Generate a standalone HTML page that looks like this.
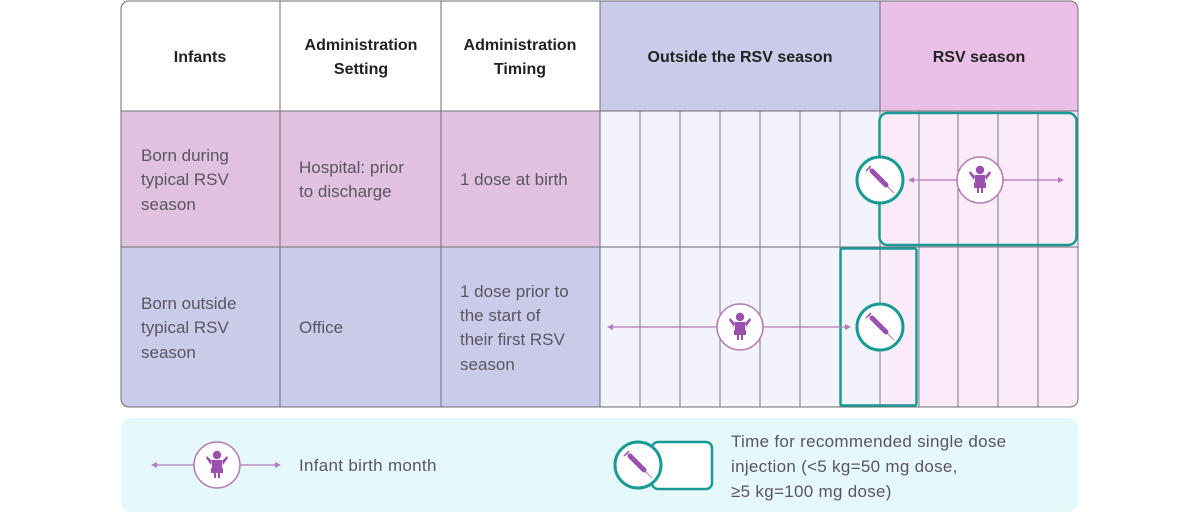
<!DOCTYPE html>
<html><head><meta charset="utf-8"><style>
html,body{margin:0;padding:0;background:#fff;}
svg{display:block;font-family:"Liberation Sans",sans-serif;}
.h{font-weight:bold;font-size:16px;fill:#222;text-anchor:middle;}
.b{font-size:17px;fill:#5a5560;}
.l{font-size:17px;fill:#5a5560;letter-spacing:0.3px;}
</style></head><body>
<svg width="1200" height="512" viewBox="0 0 1200 512" xmlns="http://www.w3.org/2000/svg">
<defs>
<symbol id="baby" viewBox="-24 -24 48 48" overflow="visible">
<circle r="23" fill="#fff" stroke="#b57ab8" stroke-width="1.5"/>
<circle cx="0" cy="-10" r="4.2" fill="#9b4fae"/>
<path d="M-5,-5 L5,-5 L5,4 L-5,4 Z" fill="#9b4fae"/>
<path d="M-5,-4 L-10,-9 L-11,-7 L-6,0 Z M5,-4 L10,-9 L11,-7 L6,0 Z" fill="#9b4fae"/>
<path d="M-6,3 L6,3 L6,8 L3,8 L3,13 L1,13 L1,8 L-1,8 L-1,13 L-3,13 L-3,8 L-6,8 Z" fill="#9b4fae"/>
</symbol>
<symbol id="syr" viewBox="-24 -24 48 48" overflow="visible">
<circle r="23" fill="#fff" stroke="#1a9a95" stroke-width="3"/>
<line x1="-11" y1="-12" x2="14" y2="13" stroke="#b57ab8" stroke-width="1"/>
<line x1="-8" y1="-9" x2="6" y2="5" stroke="#9b4fae" stroke-width="5" stroke-linecap="round"/>
<line x1="-14" y1="-9" x2="-9" y2="-14" stroke="#9b4fae" stroke-width="1.5"/>
</symbol>
</defs>
<rect x="121" y="1" width="957" height="406" rx="8" fill="#fff"/>
<rect x="600" y="1" width="280" height="110" fill="#c9cbe9"/>
<path d="M880,1 H1070 Q1078,1 1078,9 V111 H880 Z" fill="#e9bfe6"/>
<rect x="121" y="111" width="479" height="136" fill="#e0c2e0"/>
<path d="M121,247 H600 V407 H129 Q121,407 121,399 Z" fill="#c9cbe9"/>
<rect x="600" y="111" width="280" height="296" fill="#f3f3fb"/>
<path d="M880,111 H1078 V399 Q1078,407 1070,407 H880 Z" fill="#fbeaf7"/>
<g stroke="#6e6e74" stroke-width="1">
<line x1="121" y1="111" x2="1078" y2="111"/>
<line x1="121" y1="247" x2="1078" y2="247"/>
<line x1="280" y1="1" x2="280" y2="407"/>
<line x1="441" y1="1" x2="441" y2="407"/>
<line x1="600" y1="1" x2="600" y2="407"/>
<line x1="880" y1="1" x2="880" y2="111"/>
</g>
<g stroke="#7a7a82" stroke-width="1">
<line x1="640" y1="111" x2="640" y2="407"/><line x1="680" y1="111" x2="680" y2="407"/>
<line x1="720" y1="111" x2="720" y2="407"/><line x1="760" y1="111" x2="760" y2="407"/>
<line x1="800" y1="111" x2="800" y2="407"/><line x1="840" y1="111" x2="840" y2="407"/>
<line x1="880" y1="111" x2="880" y2="407"/><line x1="919" y1="111" x2="919" y2="407"/>
<line x1="958" y1="111" x2="958" y2="407"/><line x1="998" y1="111" x2="998" y2="407"/>
<line x1="1038" y1="111" x2="1038" y2="407"/>
</g>
<rect x="121" y="1" width="957" height="406" rx="8" fill="none" stroke="#6e6e74" stroke-width="1"/>
<text class="h" x="200" y="62">Infants</text>
<text class="h" x="361" y="50">Administration</text>
<text class="h" x="361" y="74">Setting</text>
<text class="h" x="520" y="50">Administration</text>
<text class="h" x="520" y="74">Timing</text>
<text class="h" x="740" y="62">Outside the RSV season</text>
<text class="h" x="979" y="62">RSV season</text>
<text class="b" x="141" y="161">Born during</text>
<text class="b" x="141" y="185">typical RSV</text>
<text class="b" x="141" y="210">season</text>
<text class="b" x="299" y="173">Hospital: prior</text>
<text class="b" x="299" y="197">to discharge</text>
<text class="b" x="460" y="185">1 dose at birth</text>
<text class="b" x="141" y="309">Born outside</text>
<text class="b" x="141" y="333">typical RSV</text>
<text class="b" x="141" y="358">season</text>
<text class="b" x="299" y="333">Office</text>
<text class="b" x="460" y="297">1 dose prior to</text>
<text class="b" x="460" y="321">the start of</text>
<text class="b" x="460" y="345">their first RSV</text>
<text class="b" x="460" y="370">season</text>
<rect x="879.5" y="113" width="197" height="132" rx="8" fill="none" stroke="#1a9a95" stroke-width="2.5"/>
<rect x="840.5" y="248.5" width="76" height="157" rx="2" fill="none" stroke="#1a9a95" stroke-width="2.5"/>
<rect x="121" y="418" width="957" height="94" rx="10" fill="#e6f9fa"/>
<g stroke="#b57ab8" stroke-width="1.3" fill="#b57ab8">
<line x1="910" y1="180" x2="1062" y2="180"/>
<path d="M908,180 l6,-3 v6 z M1064,180 l-6,-3 v6 z" stroke="none"/>
<line x1="609" y1="327" x2="848" y2="327"/>
<path d="M607,327 l6,-3 v6 z M851,327 l-6,-3 v6 z" stroke="none"/>
<line x1="154" y1="465" x2="278" y2="465"/>
<path d="M151,465 l6,-3 v6 z M281,465 l-6,-3 v6 z" stroke="none"/>
</g>
<use href="#syr" x="856" y="156" width="48" height="48"/>
<use href="#baby" x="956" y="156" width="48" height="48"/>
<use href="#baby" x="716" y="303" width="48" height="48"/>
<use href="#syr" x="856" y="303" width="48" height="48"/>
<use href="#baby" x="193" y="441" width="48" height="48"/>
<text class="l" x="299" y="471">Infant birth month</text>
<rect x="652" y="442" width="60" height="47" rx="6" fill="#fff" stroke="#1a9a95" stroke-width="2.5"/>
<use href="#syr" x="614" y="441" width="48" height="48"/>
<text class="l" x="731" y="447">Time for recommended single dose</text>
<text class="l" x="731" y="472">injection  (&lt;5 kg=50 mg dose,</text>
<text class="l" x="731" y="497">≥5 kg=100 mg dose)</text>
</svg>
</body></html>
